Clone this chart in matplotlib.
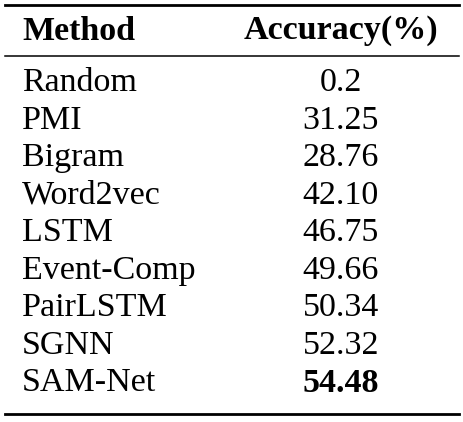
import matplotlib
matplotlib.use("Agg")
import matplotlib.pyplot as plt

methods = ["Random", "PMI", "Bigram", "Word2vec", "LSTM", "Event-Comp", "PairLSTM", "SGNN", "SAM-Net"]
accuracy = ["0.2", "31.25", "28.76", "42.10", "46.75", "49.66", "50.34", "52.32", "54.48"]
headers = ["Method", "Accuracy(%)"]
best = "SAM-Net"

W, H = 464, 422
fig = plt.figure(figsize=(W/100, H/100), dpi=100)
ax = fig.add_axes([0, 0, 1, 1])
ax.set_xlim(0, W); ax.set_ylim(H, 0); ax.axis("off")
fam = ["Liberation Serif", "DejaVu Serif"]
fs = 24.5

ax.plot([5, 459], [5, 5], color="black", lw=2.0)
ax.plot([5, 459], [56, 56], color="black", lw=1.1)
ax.plot([5, 459], [414, 414], color="black", lw=2.0)

ax.text(22, 31, headers[0], fontsize=fs, fontweight="bold", family=fam, va="center", ha="left")
ax.text(341, 31, headers[1], fontsize=fs, fontweight="bold", family=fam, va="center", ha="center")

y0, dy = 83, 37.5
for i, (m, a) in enumerate(zip(methods, accuracy)):
    y = y0 + i*dy
    ax.text(22, y, m, fontsize=fs, family=fam, va="center", ha="left")
    ax.text(341, y, a, fontsize=fs, family=fam, va="center", ha="center",
            fontweight="bold" if m == best else "normal")

fig.savefig("out.png", dpi=100)
